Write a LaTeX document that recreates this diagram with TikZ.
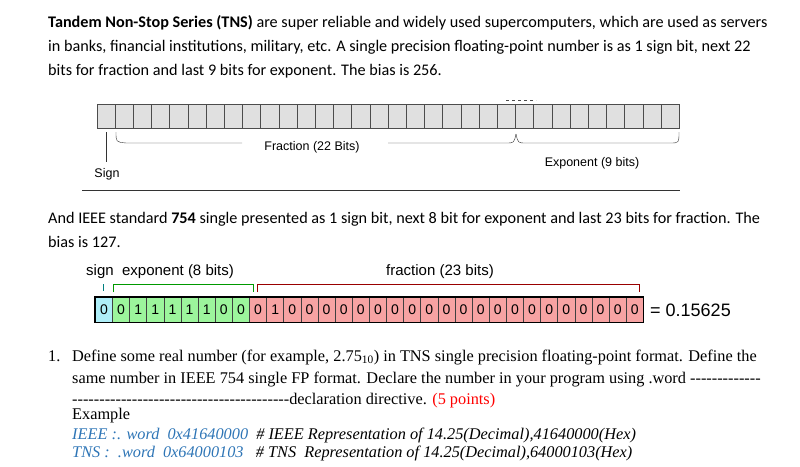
\documentclass[tikz,border=0pt]{standalone}
\usepackage{fontspec}
\setmainfont{Carlito}
\newfontfamily\tnr{Liberation Serif}
\newfontfamily\ars{Liberation Sans}
\definecolor{cy}{HTML}{AEEEF8}
\definecolor{gr}{HTML}{9CF59C}
\definecolor{rd}{HTML}{F7A3A3}
\definecolor{bl}{HTML}{2E75B6}
\newcommand\hyph[1]{\foreach\i in{1,...,#1}{-\kern0pt}}
\begin{document}
\begin{tikzpicture}[x=1pt,y=-1pt,
  tl/.style={anchor=base west,inner sep=0pt,font=\fontsize{16.2}{18}\selectfont},
  ql/.style={anchor=base west,inner sep=0pt,font=\tnr\fontsize{16.3}{18}\selectfont},
  sl/.style={inner sep=0pt,font=\ars\fontsize{12.5}{14}\selectfont},
  il/.style={inner sep=0pt,font=\ars\fontsize{15}{17}\selectfont},
  cell/.style={draw=black!75,line width=0.8pt,minimum width=17.125pt,minimum height=25pt,inner sep=0pt,font=\ars\fontsize{14}{16}\selectfont,anchor=north west}]
\useasboundingbox (0,0) rectangle (800,466);
\node[tl] (p1) at (48,27) {\textbf{Tandem Non-Stop Series (TNS)} are super reliable and widely used supercomputers, which are used as servers};
\node[tl] (p2) at (48,51) {in banks, financial institutions, military, etc. A single precision floating-point number is as 1 sign bit, next 22};
\node[tl] (p3) at (48,75) {bits for fraction and last 9 bits for exponent. The bias is 256.};
% TNS bar
\foreach \i in {0,...,31}{
  \draw[fill=black!12,draw=black!70,line width=0.8pt] (97+\i*18.2,104) rectangle ++(18.2,24);}
\draw[dashed,black!70] (506,100) -- (536,100);
\coordinate (s1) at (106,132); \coordinate (s2) at (106,162);
\draw[black!80] (s1) -- (s2);
\node[sl] (sign) at (107,174) {Sign};
\node[sl] (frac) at (312,147) {Fraction (22 Bits)};
\node[sl] (expo) at (592,163) {Exponent (9 bits)};
\draw[black!80] (116,132) .. controls (116,142) .. (126,143) -- (242,143);
\draw[black!80] (388,143) -- (506,143) .. controls (514,143) .. (516,134);
\draw[black!80] (516,134) .. controls (518,143) .. (526,143) -- (670,143) .. controls (679,143) .. (679,132);
\draw[black!80,line width=0.8pt] (82,190) -- (680,190);
\node[tl] (p4) at (48,223) {And IEEE standard \textbf{754} single presented as 1 sign bit, next 8 bit for exponent and last 23 bits for fraction. The};
\node[tl] (p5) at (48,247) {bias is 127.};
% IEEE
\node[il] (ls) at (100,272) {sign};
\node[il] (le) at (178,272) {exponent (8 bits)};
\node[il] (lf) at (440,272) {fraction (23 bits)};
\draw[teal] (103,284) -- (103,291);
\draw[green!60!black] (113,292) -- (113,284) -- (253,284) -- (253,292);
\draw[red!60!black] (257,292) -- (257,284) -- (639,284) -- (639,292);
\foreach \b [count=\k from 0] in {0,0,1,1,1,1,1,0,0,0,1,0,0,0,0,0,0,0,0,0,0,0,0,0,0,0,0,0,0,0,0,0}{
  \pgfmathsetmacro\col{\k==0 ? "cy" : (\k<9 ? "gr" : "rd")}
  \node[cell,fill=\col] (c\k) at (95+\k*17.125,297) {\b};}
\draw[line width=1.2pt] (c0.north west) rectangle (c31.south east);
\node[il,anchor=west,font=\ars\fontsize{18}{20}\selectfont] (eq) at (650,310) {= 0.15625};
% question
\node[ql] (n1) at (48,361) {1.};
\node[ql] (q1) at (72,361) {Define some real number (for example, 2.75\textsubscript{10}) in TNS single precision floating-point format. Define the};
\node[ql] (q2) at (72,383) {same number in IEEE 754 single FP format. Declare the number in your program using .word \hyph{13}};
\node[ql] (q3) at (72,404) {\hyph{40}declaration directive. \textcolor{red}{(5 points)}};
\node[ql] (q4) at (72,419) {Example};
\node[ql] (q5) at (72,439) {\itshape\textcolor{bl}{IEEE :. word\ \ 0x41640000}\ \ \# IEEE Representation of 14.25(Decimal),41640000(Hex)};
\node[ql] (q6) at (72,457) {\itshape\textcolor{bl}{TNS :\ \ .word\ \ 0x64000103}\ \ \ \# TNS\ \ Representation of 14.25(Decimal),64000103(Hex)};
\end{tikzpicture}
\end{document}
